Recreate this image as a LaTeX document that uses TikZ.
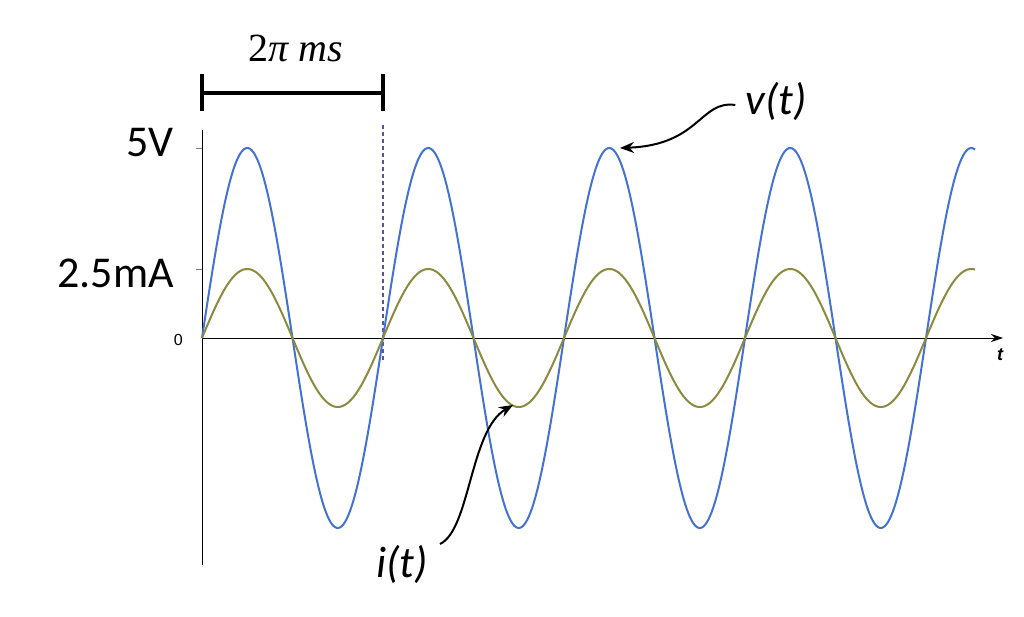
\documentclass[tikz,border=0pt]{standalone}
\usepackage{fontspec}
\setmainfont{Carlito}
\newfontfamily\arialf{Liberation Sans}
\newfontfamily\serf{Liberation Serif}
\usetikzlibrary{arrows.meta}
\definecolor{vblue}{RGB}{68,114,210}
\definecolor{iolive}{RGB}{140,138,62}
\definecolor{dashc}{RGB}{90,80,170}
\tikzset{lab/.style={inner sep=0pt,font=\fontsize{44}{48}\selectfont},
 curv/.style={line width=2pt,-{Stealth[length=14pt,width=11pt]}}}
\begin{document}
\begin{tikzpicture}[x=1pt,y=-1pt]
\useasboundingbox (0,0) rectangle (1024,617);
% axes
\draw[line width=1pt] (202,130) -- (202,565);
\draw[line width=1pt,-{Stealth[length=12pt,width=8pt]}] (202,338) -- (1003,338);
\draw[gray] (196,148) -- (202,148) (196,269) -- (202,269);
\draw[dashed,dash pattern=on 4pt off 3pt,color=dashc,line width=1.3pt] (383,125) -- (383,362);
% curves
\draw[vblue,line width=2pt] plot[domain=0:773,samples=500] ({\x+202},{338-190*sin(\x/181*360)});
\draw[iolive,line width=2pt] plot[domain=0:773,samples=500] ({\x+202},{338-69*sin(\x/181*360)});
% bracket
\draw[line width=4pt] (202,93) -- (383,93);
\draw[line width=4pt] (202,74) -- (202,111) (383,74) -- (383,111);
\node[inner sep=0pt,font=\serf\fontsize{40}{44}\selectfont] (per) at (296,48) {2\textit{π ms}};
% labels
\node[lab,anchor=east] (v5) at (174,143) {5V};
\node[lab,anchor=east] (i25) at (174,273) {2.5mA};
\node[inner sep=0pt,anchor=east,font=\arialf\fontsize{16}{18}\selectfont] (zero) at (183,340) {0};
\node[inner sep=0pt,font=\arialf\bfseries\itshape\fontsize{18}{20}\selectfont] (tl) at (1000,355) {t};
\node[lab,font=\itshape\fontsize{44}{48}\selectfont] (vt) at (776,101) {v(t)};
\node[lab,font=\itshape\fontsize{44}{48}\selectfont] (it) at (402,564) {i(t)};
\coordinate (vp) at (620,148);
\coordinate (ip) at (513,405);
\draw[curv] (vt.west) ++(-10,4) .. controls (700,100) and (700,145) .. (vp);
\draw[curv] (it.east) ++(12,-20) .. controls (470,530) and (470,430) .. (ip);
\end{tikzpicture}
\end{document}
